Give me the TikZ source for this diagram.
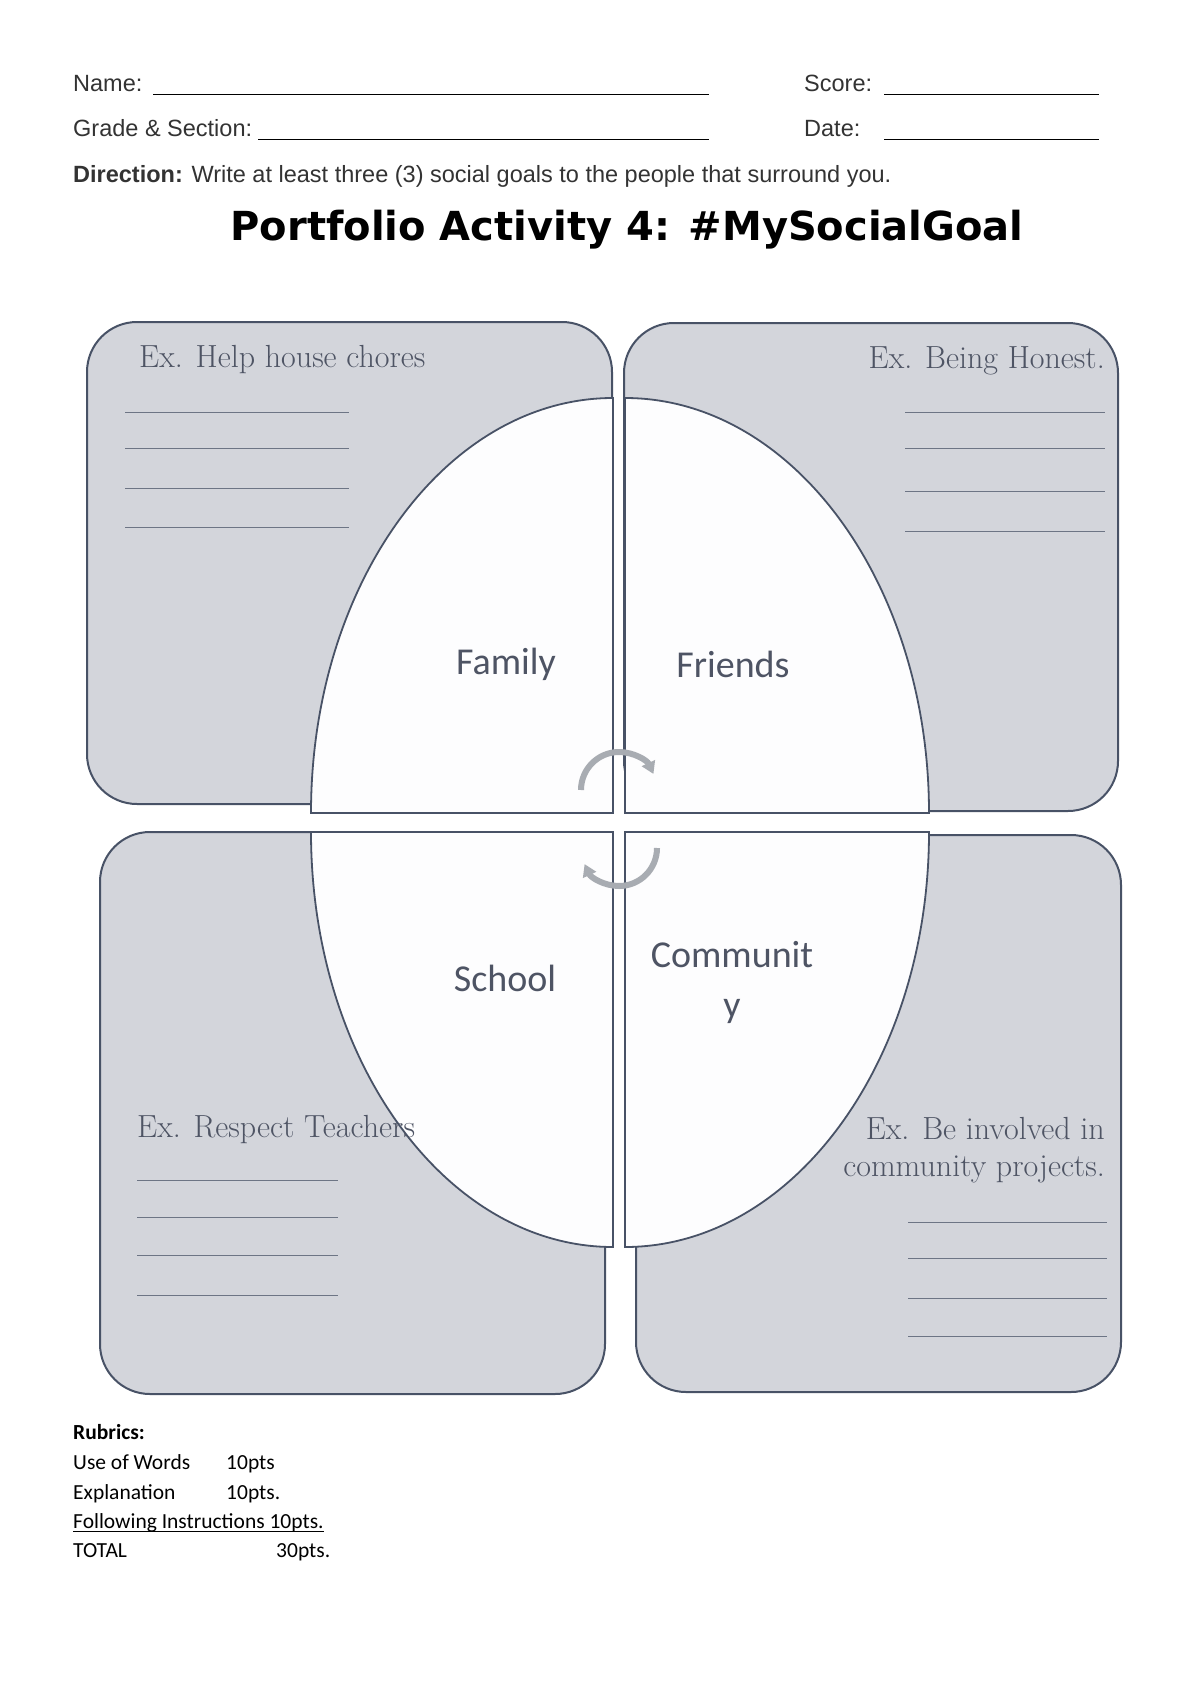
\documentclass[tikz,border=0pt]{standalone}
\usepackage{fontspec}
\setmainfont{Latin Modern Roman}
\newfontfamily\hdr{Liberation Sans}
\newfontfamily\ttl{DejaVu Sans}
\newfontfamily\calfont{Carlito}
\usetikzlibrary{arrows.meta}
\definecolor{boxfill}{RGB}{211,213,219}
\definecolor{edge}{RGB}{72,82,102}
\definecolor{egg}{RGB}{253,253,254}
\definecolor{txt}{RGB}{78,84,100}
\definecolor{arr}{RGB}{168,172,178}
\tikzset{
  card/.style={fill=boxfill,draw=edge,line width=2pt,rounded corners=50pt},
  quart/.style={fill=egg,draw=edge,line width=1.8pt},
  ex/.style={font=\fontsize{32}{37}\selectfont,text=txt,inner sep=0pt},
  wl/.style={draw=edge!80,line width=0.8pt},
  lab/.style={font=\calfont\fontsize{38}{44}\selectfont,text=txt,inner sep=0pt},
  hd/.style={font=\hdr\fontsize{23.5}{28}\selectfont,text=black!80,inner sep=0pt,anchor=base west},
  rb/.style={font=\calfont\fontsize{21.5}{26}\selectfont,inner sep=0pt,anchor=base west},
  cyc/.style={draw=arr,line width=6pt,-{Triangle[length=12pt,width=14pt]}}
}
\begin{document}
\begin{tikzpicture}[x=1pt,y=-1pt]
\useasboundingbox (0,0) rectangle (1200,1696);
\fill[white] (0,0) rectangle (1200,1696);
% header
\node[hd] (name) at (73,92) {Name:};
\draw[line width=0.8pt] (153,94) coordinate (n1) -- (709,94) coordinate (n2);
\node[hd] (score) at (804,92) {Score:};
\draw[line width=0.8pt] (884,94) coordinate (s1) -- (1099,94) coordinate (s2);
\node[hd] (grade) at (73,137) {Grade \& Section:};
\draw[line width=0.8pt] (258,139) coordinate (g1) -- (709,139) coordinate (g2);
\node[hd] (date) at (804,137) {Date:};
\draw[line width=0.8pt] (884,139) coordinate (d1) -- (1099,139) coordinate (d2);
\node[hd] (dir) at (73,183) {\textbf{Direction:} Write at least three (3) social goals to the people that surround you.};
\node[font=\ttl\bfseries\fontsize{40}{46}\selectfont,inner sep=0pt] (title) at (627,230) {Portfolio Activity 4: \#MySocialGoal};
% cards
\draw[card] (87,322) rectangle (612,804);
\draw[card] (624,323) rectangle (1118,811);
\draw[card] (100,832) rectangle (605,1394);
\draw[card] (636,835) rectangle (1121,1392);
% quarters
\draw[quart] (613,813) -- (311,813) arc[start angle=180,end angle=270,x radius=302,y radius=415] -- cycle;
\draw[quart] (625,813) -- (625,398) arc[start angle=270,end angle=360,x radius=304,y radius=415] -- cycle;
\draw[quart] (613,832) -- (311,832) arc[start angle=180,end angle=90,x radius=302,y radius=415] -- cycle;
\draw[quart] (625,832) -- (929,832) arc[start angle=0,end angle=90,x radius=304,y radius=415] -- cycle;
% cycle arrows
\draw[cyc] (581,790) arc[start angle=180,end angle=335,radius=38];
\draw[cyc] (657,848) arc[start angle=0,end angle=155,radius=38];
% labels
\node[lab] (fam) at (506,664) {Family};
\node[lab] (fri) at (733,664) {Friends};
\node[lab] (sch) at (505,978) {School};
\node[lab] (com) at (732,955) {Communit};
\node[lab] (comy) at (732,1011) {y};
% example texts
\node[ex,anchor=west] (e1) at (139,360) {Ex. Help house chores};
\node[ex,anchor=east] (e2) at (1105,361) {Ex. Being Honest.};
\node[ex,anchor=west] (e3) at (137,1130) {Ex. Respect Teachers};
\node[ex,anchor=east,align=right] (e4) at (1105,1150) {Ex. Be involved in\\community projects.};
\foreach \y in {412,448,488,527} \draw[wl] (125,\y) -- (349,\y);
\foreach \y in {412,448,491,531} \draw[wl] (905,\y) -- (1105,\y);
\foreach \y in {1180,1217,1255,1295} \draw[wl] (137,\y) -- (338,\y);
\foreach \y in {1222,1258,1298,1336} \draw[wl] (908,\y) -- (1107,\y);
% rubrics
\node[rb] (rub) at (73,1439) {\textbf{Rubrics:}};
\node[rb] (r1) at (73,1469) {Use of Words};
\node[rb] (r1b) at (226,1469) {10pts};
\node[rb] (r2) at (73,1499) {Explanation};
\node[rb] (r2b) at (226,1499) {10pts.};
\node[rb] (r3) at (73,1528) {Following Instructions 10pts.};
\draw[line width=0.7pt] ([yshift=-3pt]r3.base west) -- ([yshift=-3pt]r3.base east);
\node[rb] (r4) at (73,1557) {TOTAL};
\node[rb] (r4b) at (276,1557) {30pts.};
\end{tikzpicture}
\end{document}
